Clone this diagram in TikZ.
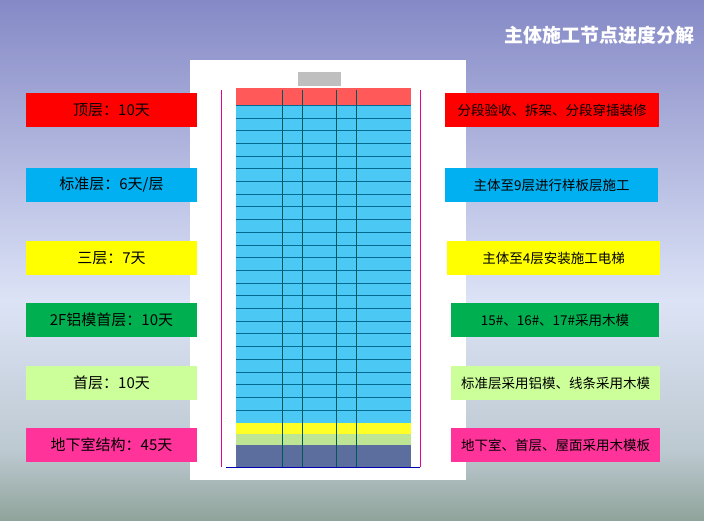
\documentclass[tikz,border=0pt]{standalone}
\usepackage{fontspec}
\setmainfont{Noto Sans CJK SC}
\usetikzlibrary{positioning}
\definecolor{cred}{HTML}{FF0000}
\definecolor{cblue}{HTML}{00B0F0}
\definecolor{cyel}{HTML}{FFFF00}
\definecolor{cgreen}{HTML}{00B050}
\definecolor{clight}{HTML}{CCFF99}
\definecolor{cpink}{HTML}{FF3399}
\definecolor{ctop}{HTML}{8589C6}
\definecolor{cmid}{HTML}{DCE3F6}
\definecolor{cbot}{HTML}{8FA39A}
\definecolor{cbase}{HTML}{5B6E9E}
\tikzset{
  tag/.style={minimum height=34pt,inner sep=0pt,font=\fontsize{15}{17}\selectfont},
  lefttag/.style={tag,minimum width=171pt},
  righttag/.style={tag,minimum width=212pt,font=\fontsize{13.5}{15}\selectfont}
}
\begin{document}
\begin{tikzpicture}[x=1pt,y=-1pt]
   \useasboundingbox (0,0) rectangle (704,521);
   % background
   \shade[top color=ctop,bottom color=cmid] (0,0) rectangle (704,300);
   \shade[top color=cmid,bottom color=cmid!60!cbot] (0,300) rectangle (704,450);
   \shade[top color=cmid!60!cbot,bottom color=cbot] (0,450) rectangle (704,521);
   \node[anchor=east,text=white,font=\fontsize{19}{21}\selectfont\bfseries] (title) at (698,35) {主体施工节点进度分解};
   % drawing
   \fill[white] (190,60) rectangle (466,480);
   \fill[gray!50] (298,72) rectangle (341,86);
   \fill[cblue!70] (236,105) rectangle (411,423);
   \fill[cred!65] (236,88) rectangle (411,105);
   \fill[cyel!85] (236,423) rectangle (411,434);
   \fill[clight!80!gray] (236,434) rectangle (411,445);
   \fill[cbase] (236,445) rectangle (411,467);
   \foreach \i in {0,...,24}
     \draw[cblue!60!black,line width=0.3pt] (236,{105+\i*12.7}) -- (411,{105+\i*12.7});
   \foreach \x in {282,302,336,356}
     \draw[teal!70!black,line width=0.4pt] (\x,90) -- (\x,467);
   \draw[magenta,line width=0.4pt] (221,90) -- (221,467) (420,90) -- (420,467);
   \draw[blue!70!black,line width=1pt] (226,467) -- (420,467);
   % left tags
   \node[lefttag,fill=cred] (top) at (111.5,110) {顶层：10天};
   \node[lefttag,fill=cblue] (std) at (111.5,185) {标准层：6天/层};
   \node[lefttag,fill=cyel] (third) at (111.5,258) {三层：7天};
   \node[lefttag,fill=cgreen] (alu) at (111.5,320) {2F铝模首层：10天};
   \node[lefttag,fill=clight] (first) at (111.5,383) {首层：10天};
   \node[lefttag,fill=cpink] (base) at (111.5,445) {地下室结构：45天};
   % right tags
   \node[righttag,fill=cred,minimum width=214pt] (rtop) at (552,110) {分段验收、拆架、分段穿插装修};
   \node[righttag,fill=cblue,minimum width=213pt] (rstd) at (551.5,185) {主体至9层进行样板层施工};
   \node[righttag,fill=cyel,minimum width=213pt] (rthird) at (553.5,258) {主体至4层安装施工电梯};
   \node[righttag,fill=cgreen,minimum width=208pt] (ralu) at (555,320) {15\#、16\#、17\#采用木模};
   \node[righttag,fill=clight,minimum width=209pt] (rfirst) at (555.5,383) {标准层采用铝模、线条采用木模};
   \node[righttag,fill=cpink,minimum width=209pt] (rbase) at (555.5,445) {地下室、首层、屋面采用木模板};
\end{tikzpicture}
\end{document}
